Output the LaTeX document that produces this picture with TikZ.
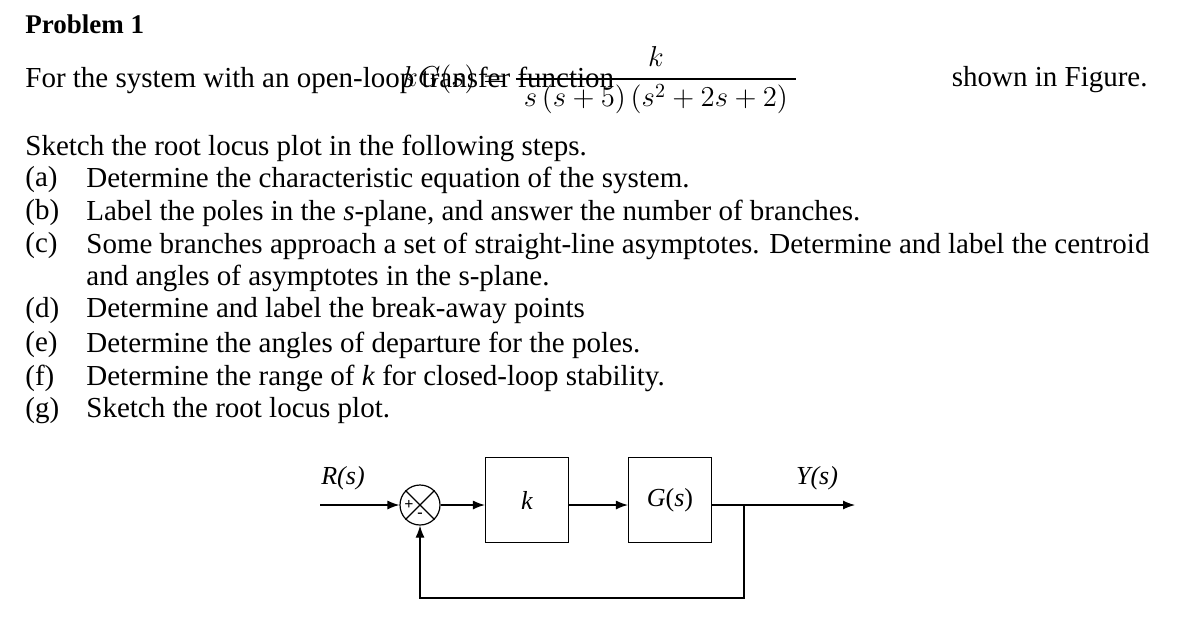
\documentclass[tikz,border=0pt]{standalone}
\usepackage{fontspec}
\setmainfont{Liberation Serif}
\usepackage{amsmath}
\usetikzlibrary{arrows.meta}
\begin{document}
\begin{tikzpicture}[x=0.5pt,y=-0.5pt,
  txt/.style={anchor=west,inner sep=0pt,font=\fontsize{14.5}{16}\selectfont},
  blk/.style={draw,line width=0.6pt,minimum width=41.5pt,minimum height=42.5pt,font=\fontsize{13}{15}\selectfont},
  sig/.style={line width=0.6pt,-{Latex[length=6pt,width=4.5pt]}},
  wire/.style={line width=0.6pt}]
\useasboundingbox (0,0) rectangle (1182,632);
\node[txt,font=\fontsize{13.5}{16}\selectfont\bfseries] (title) at (25,24) {Problem 1};
\node[txt] (intro) at (25,80) {For the system with an open-loop transfer function};
\node[txt,anchor=west] (frac) at (402,80) {$kG(s)=\dfrac{\;k\;}{\;s\left(s+5\right)\left(s^{2}+2s+2\right)\;}$};
\node[txt,anchor=east] (fig) at (1148,80) {shown in Figure.};
\node[txt] (sk) at (25,148) {Sketch the root locus plot in the following steps.};
\foreach \l/\y/\t in {a/180/{Determine the characteristic equation of the system.},
  b/213/{Label the poles in the \textit{s}-plane, and answer the number of branches.},
  c/246/{Some branches approach a set of straight-line asymptotes. Determine and label the centroid},
  c2/278/{and angles of asymptotes in the s-plane.},
  d/311/{Determine and label the break-away points},
  e/345/{Determine the angles of departure for the poles.},
  f/378/{Determine the range of \textit{k} for closed-loop stability.},
  g/411/{Sketch the root locus plot.}}
  {\node[txt] (t\l) at (86,\y) {\t};}
\foreach \l/\y in {a/180,b/213,c/246,d/311,e/345,f/378,g/411}
  {\node[txt] (l\l) at (25,\y) {(\l)};}
% block diagram
\node[draw,circle,line width=0.6pt,minimum size=20pt,inner sep=0pt] (sum) at (420,505) {};
\draw[line width=0.6pt] (sum.north west)--(sum.south east) (sum.north east)--(sum.south west);
\node[font=\fontsize{8}{8}\selectfont\bfseries,inner sep=0pt] (pl) at (409,505) {+};
\node[font=\fontsize{8}{8}\selectfont\bfseries,inner sep=0pt] (mi) at (420,515) {-};
\node[blk] (K) at (527,500) {\textit{k}};
\node[blk] (G) at (670,500) {\textit{G}(\textit{s})};
\coordinate (in) at (320,505);
\coordinate (br) at (744,505);
\coordinate (out) at (855,505);
\coordinate (fb1) at (744,598);
\coordinate (fb2) at (420,598);
\draw[sig] (in) -- (sum.west);
\draw[sig] (sum.east) -- (sum.east -| K.west);
\draw[sig] (K.east |- 0,505) -- (G.west |- 0,505);
\draw[sig] (G.east |- 0,505) -- (out);
\draw[sig] (br) -- (fb1) -- (fb2) -- (sum.south);
\node[font=\fontsize{13}{15}\selectfont\itshape,inner sep=0pt] (R) at (343,478) {R(s)};
\node[font=\fontsize{13}{15}\selectfont\itshape,inner sep=0pt] (Y) at (817,478) {Y(s)};
\end{tikzpicture}
\end{document}
